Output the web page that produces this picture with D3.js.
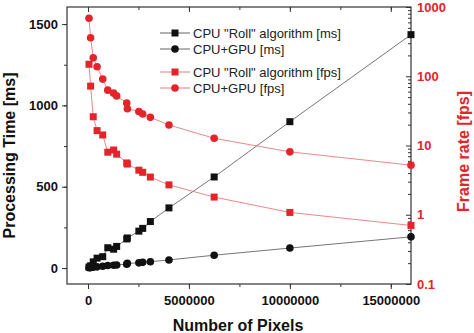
<!DOCTYPE html>
<html>
<head>
<meta charset="utf-8">
<script src="https://cdn.jsdelivr.net/npm/d3@7"></script>
<style>
    html, body { margin: 0; padding: 0; background: #fff; overflow: hidden; }
    svg { display: block; font-family: 'Liberation Sans', Arial, sans-serif; }
</style>
</head>
<body>
<div id="chart"></div>
<script>
'use strict';

// number of pixels in the test images
var pixels = [50000, 130000, 260000, 450000, 730000, 980000, 1270000, 1420000, 1920000, 1950000,
    2520000, 2710000, 3090000, 4010000, 6250000, 10000000, 16000000];

// CPU "Roll" algorithm
var rollMs = [6.7, 14, 38, 61, 70, 125, 116, 133, 179, 185, 227, 244, 286, 370, 560, 900, 1435];
var rollFps = [149, 72, 26, 16.4, 14.2, 8.0, 8.6, 7.5, 5.6, 5.4, 4.4, 4.1, 3.5, 2.7, 1.8, 1.08, 0.7];

// CPU+GPU
var gpuMs = [1.5, 2.8, 5.4, 7.3, 11, 16, 17.5, 19, 24, 29, 32, 35, 39, 50, 79, 123, 192];
var gpuFps = [687, 360, 185, 137, 91, 63, 57, 52, 41, 34, 31, 28.5, 25.5, 19.8, 12.7, 8.1, 5.2];

var xTicks = [0, 5000000, 10000000, 15000000];
var yLeftTicks = [0, 500, 1000, 1500];
var yRightTicks = [0.1, 1, 10, 100, 1000];

var legendLabels = ['CPU "Roll" algorithm [ms]', 'CPU+GPU [ms]', 'CPU "Roll" algorithm [fps]', 'CPU+GPU [fps]'];

var width = 474,
    height = 333;

var margin = {top: 7, right: 63, bottom: 49, left: 67};
var w = width - margin.left - margin.right,
    h = height - margin.top - margin.bottom;

var red = '#e3242b';

var svg = d3.select('#chart').append('svg')
    .attr('width', width)
    .attr('height', height);

var g = svg.append('g').attr('transform', 'translate(' + margin.left + ',' + margin.top + ')');

var x = d3.scaleLinear().domain([-1040000, 16000000]).range([0, w]);
var yL = d3.scaleLinear().domain([-98, 1605]).range([h, 0]);
var yR = d3.scaleLog().domain([0.1, 1000]).range([h, 0]);

var minorX = d3.range(0, 16000001, 2500000);
var minorY = d3.range(0, 1601, 250);

// bottom axis
g.append('g')
    .attr('transform', 'translate(0,' + h + ')')
    .call(d3.axisBottom(x).tickValues(minorX).tickSize(3).tickFormat(''));
g.append('g')
    .attr('class', 'xaxis')
    .attr('transform', 'translate(0,' + h + ')')
    .call(d3.axisBottom(x).tickValues(xTicks).tickSize(5).tickPadding(7).tickFormat(d3.format('d')));

// top axis, ticks inward
g.append('g')
    .call(d3.axisBottom(x).tickValues(minorX).tickSize(3).tickFormat(''));
g.append('g')
    .call(d3.axisBottom(x).tickValues(xTicks).tickSize(5).tickFormat(''));

// left axis
g.append('g')
    .call(d3.axisLeft(yL).tickValues(minorY).tickSize(3).tickFormat(''));
g.append('g')
    .attr('class', 'yaxis')
    .call(d3.axisLeft(yL).tickValues(yLeftTicks).tickSize(5).tickPadding(4).tickFormat(d3.format('d')));

// right axis (log), ticks inward
var minorR = [];
[0.1, 1, 10, 100].forEach(function(d) {
    d3.range(2, 10).forEach(function(k) { minorR.push(d * k); });
});
g.append('g')
    .attr('transform', 'translate(' + w + ',0)')
    .call(d3.axisLeft(yR).tickValues(minorR).tickSize(3).tickFormat(''));
g.append('g')
    .attr('transform', 'translate(' + w + ',0)')
    .call(d3.axisLeft(yR).tickValues(yRightTicks).tickSize(5).tickFormat(''));
g.append('g')
    .attr('class', 'rlabels')
    .attr('transform', 'translate(' + w + ',0)')
    .call(d3.axisRight(yR).tickValues(yRightTicks).tickSize(0).tickPadding(6).tickFormat(function(d) { return String(d); }));

// frame
g.append('rect')
    .attr('width', w).attr('height', h)
    .attr('fill', 'none').attr('stroke', '#333').attr('stroke-width', 1.2);

g.selectAll('.domain').remove();
g.selectAll('.tick line').attr('stroke', '#333').attr('stroke-width', 1);
g.selectAll('.tick text')
    .attr('fill', '#111')
    .style('font-size', '13px')
    .style('font-weight', 'bold');
g.selectAll('.rlabels .tick text').attr('fill', red);

// series
var series = [
    {vals: rollMs, y: yL, color: '#111', line: '#666', shape: 'square'},
    {vals: gpuMs, y: yL, color: '#111', line: '#666', shape: 'circle'},
    {vals: rollFps, y: yR, color: red, line: '#e87a7a', shape: 'square'},
    {vals: gpuFps, y: yR, color: red, line: '#e87a7a', shape: 'circle'}
];

var plot = g.append('g');

series.forEach(function(s) {
    var line = d3.line()
        .x(function(d, i) { return x(pixels[i]); })
        .y(function(d) { return s.y(d); });

    plot.append('path')
        .datum(s.vals)
        .attr('d', line)
        .attr('fill', 'none')
        .attr('stroke', s.line)
        .attr('stroke-width', 0.9);

    if (s.shape === 'square') {
        plot.selectAll(null)
            .data(s.vals)
            .enter()
            .append('rect')
            .attr('x', function(d, i) { return x(pixels[i]) - 3.5; })
            .attr('y', function(d) { return s.y(d) - 3.5; })
            .attr('width', 7).attr('height', 7)
            .attr('fill', s.color);
    } else {
        plot.selectAll(null)
            .data(s.vals)
            .enter()
            .append('circle')
            .attr('cx', function(d, i) { return x(pixels[i]); })
            .attr('cy', function(d) { return s.y(d); })
            .attr('r', 3.8)
            .attr('fill', s.color);
    }
});

// legend
var legendY = [26, 42, 65, 81];
var legend = g.selectAll('.legend')
    .data(series)
    .enter()
    .append('g')
    .attr('transform', function(d, i) { return 'translate(93,' + legendY[i] + ')'; });

legend.append('line')
    .attr('x1', 0).attr('x2', 30)
    .attr('stroke', function(d) { return d.line; })
    .attr('stroke-width', 1);

legend.each(function(d) {
    var el = d3.select(this);
    if (d.shape === 'square') {
        el.append('rect').attr('x', 11.5).attr('y', -3.5).attr('width', 7).attr('height', 7).attr('fill', d.color);
    } else {
        el.append('circle').attr('cx', 15).attr('r', 3.8).attr('fill', d.color);
    }
});

legend.append('text')
    .attr('x', 33)
    .attr('dy', '0.35em')
    .attr('fill', '#222')
    .style('font-size', '13px')
    .text(function(d, i) { return legendLabels[i]; });

// axis titles
svg.append('text')
    .attr('transform', 'translate(' + (margin.left + w / 2 - 1) + ',' + (height - 2) + ')')
    .attr('text-anchor', 'middle')
    .attr('fill', '#111')
    .style('font-size', '16px')
    .style('font-weight', 'bold')
    .text('Number of Pixels');

svg.append('text')
    .attr('transform', 'translate(15,' + (margin.top + h / 2 + 10) + ') rotate(-90)')
    .attr('text-anchor', 'middle')
    .attr('fill', '#111')
    .style('font-size', '16px')
    .style('font-weight', 'bold')
    .text('Processing Time [ms]');

svg.append('text')
    .attr('transform', 'translate(469,' + (margin.top + h / 2 + 6) + ') rotate(-90)')
    .attr('text-anchor', 'middle')
    .attr('fill', red)
    .style('font-size', '16px')
    .style('font-weight', 'bold')
    .text('Frame rate [fps]');
</script>
</body>
</html>
